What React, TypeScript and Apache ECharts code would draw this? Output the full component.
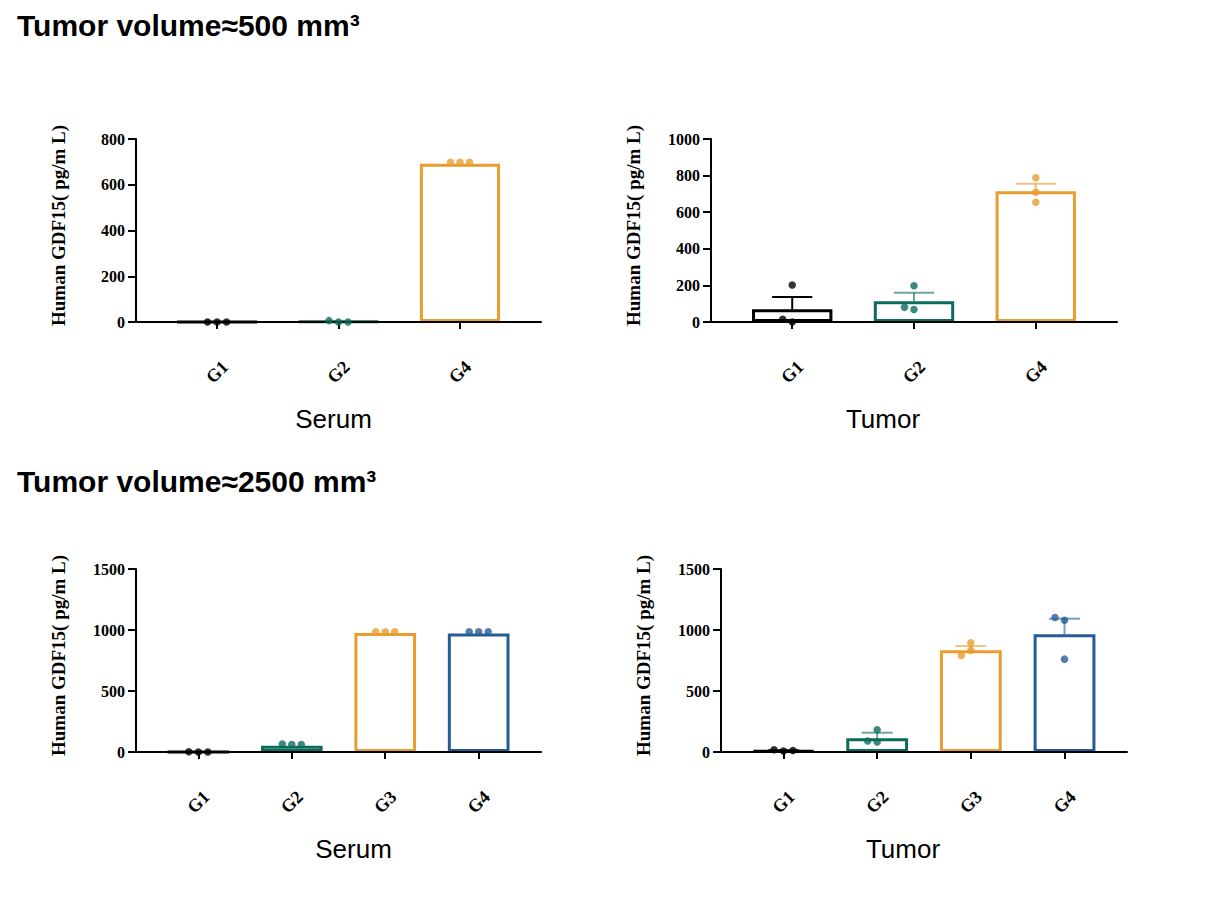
import React, { useEffect, useRef } from 'react';
import * as echarts from 'echarts';

// groups shown in each row
const groupsTop = ['G1', 'G2', 'G4'];
const groupsBottom = ['G1', 'G2', 'G3', 'G4'];

const colorsTop = ['#000000', '#0e6b5c', '#e99d2e'];
const colorsBottom = ['#000000', '#0e6b5c', '#e99d2e', '#245c96'];

const titleTop = 'Tumor volume≈500 mm³';
const titleBottom = 'Tumor volume≈2500 mm³';
const yName = 'Human GDF15( pg/m L)';

// Tumor volume ≈ 500 mm3, serum
const serum500Mean = [0, 2, 692];
const serum500Sem = [0, 0, 0];
const serum500Points = [[0, 0, 0], [0, 6, 0], [698, 698, 698]];

// Tumor volume ≈ 500 mm3, tumor
const tumor500Mean = [70, 113, 714];
const tumor500Sem = [67, 47, 42];
const tumor500Points = [[202, 0, 15], [198, 68, 80], [788, 709, 654]];

// Tumor volume ≈ 2500 mm3, serum
const serum2500Mean = [1, 52, 975, 972];
const serum2500Sem = [0, 0, 0, 0];
const serum2500Points = [[0, 2, 0], [62, 65, 62], [985, 985, 985], [985, 985, 985]];

// Tumor volume ≈ 2500 mm3, tumor
const tumor2500Mean = [12, 112, 835, 966];
const tumor2500Sem = [2, 46, 34, 127];
const tumor2500Points = [[8, 18, 12], [183, 82, 90], [896, 835, 790], [1080, 1102, 761]];

const yTicksTop = [800, 1000];
const yStepTop = 200;
const yMaxBottom = 1500;
const yStepBottom = 500;

const SERIF = '"Liberation Serif", "Times New Roman", serif';
const SANS = '"Liberation Sans", Arial, sans-serif';
const PAD = 0.667;
const DOT_STEP = 9.5;

// simple beeswarm: dots that would overlap get pushed sideways
const swarm = (values: number[], yMax: number) => {
  const thr = yMax * 0.032;
  const placed: { v: number; o: number }[] = [];
  return values.map((v) => {
    for (const o of [0, -1, 1, -2, 2]) {
      if (!placed.some((p) => p.o === o && Math.abs(p.v - v) < thr)) {
        placed.push({ v, o });
        return o;
      }
    }
    return 0;
  });
};

const panels = [
  { cats: groupsTop, colors: colorsTop, mean: serum500Mean, sem: serum500Sem, points: serum500Points, yMax: yTicksTop[0], step: yStepTop, name: 'Serum', grid: { left: 136, top: 139, width: 405, height: 183 }, shift: -5 },
  { cats: groupsTop, colors: colorsTop, mean: tumor500Mean, sem: tumor500Sem, points: tumor500Points, yMax: yTicksTop[1], step: yStepTop, name: 'Tumor', grid: { left: 711, top: 139, width: 406, height: 183 }, shift: -31 },
  { cats: groupsBottom, colors: colorsBottom, mean: serum2500Mean, sem: serum2500Sem, points: serum2500Points, yMax: yMaxBottom, step: yStepBottom, name: 'Serum', grid: { left: 136, top: 569, width: 405, height: 183 }, shift: 15 },
  { cats: groupsBottom, colors: colorsBottom, mean: tumor2500Mean, sem: tumor2500Sem, points: tumor2500Points, yMax: yMaxBottom, step: yStepBottom, name: 'Tumor', grid: { left: 721, top: 569, width: 406, height: 183 }, shift: -21 },
];

const fade = (hex: string) => (hex === '#000000' ? hex : hex + '99');

const App: React.FC = () => {
  const chartRef = useRef<HTMLDivElement | null>(null);

  useEffect(() => {
    if (!chartRef.current) return;
    const chart = echarts.init(chartRef.current, null, { renderer: 'svg' });

    const grid: any[] = [];
    const xAxis: any[] = [];
    const yAxis: any[] = [];
    const series: any[] = [];

    panels.forEach((p, i) => {
      const idx = p.cats.map((_, k) => k);
      grid.push({ ...p.grid, containLabel: false, outerBoundsMode: 'none' });
      xAxis.push({
        type: 'value',
        gridIndex: i,
        min: -PAD,
        max: p.cats.length - 1 + PAD,
        z: 3,
        splitLine: { show: false },
        axisLine: { show: true, onZero: false, lineStyle: { color: '#000', width: 2 } },
        axisTick: { show: true, customValues: idx, length: 7, lineStyle: { color: '#000', width: 2 } },
        axisLabel: {
          customValues: idx,
          formatter: (v: number) => p.cats[Math.round(v)],
          rotate: 45,
          align: 'center',
          verticalAlign: 'middle',
          margin: 50,
          fontFamily: SERIF,
          fontWeight: 'bold',
          fontSize: 18,
          color: '#000',
        },
        name: p.name,
        nameLocation: 'middle',
        nameGap: 84,
        nameTextStyle: {
          fontFamily: SANS,
          fontSize: 26,
          color: '#000',
          padding: p.shift < 0 ? [0, -2 * p.shift, 0, 0] : [0, 0, 0, 2 * p.shift],
        },
      });
      yAxis.push({
        type: 'value',
        gridIndex: i,
        min: 0,
        max: p.yMax,
        interval: p.step,
        z: 3,
        splitLine: { show: false },
        axisLine: { show: true, onZero: false, lineStyle: { color: '#000', width: 2 } },
        axisTick: { show: true, length: 8, lineStyle: { color: '#000', width: 2 } },
        axisLabel: {
          margin: 11,
          formatter: (v: number) => String(v),
          fontFamily: SERIF,
          fontWeight: 'bold',
          fontSize: 16,
          color: '#000',
        },
        name: yName,
        nameLocation: 'middle',
        nameGap: 68,
        nameTextStyle: {
          fontFamily: SERIF,
          fontWeight: 'bold',
          fontSize: 19,
          color: '#000',
          padding: [0, 0, 0, 10],
        },
      });

      series.push({
        type: 'bar',
        xAxisIndex: i,
        yAxisIndex: i,
        barWidth: '66%',
        z: 2,
        data: p.mean.map((m, k) => ({
          value: [k, m],
          itemStyle: { color: '#ffffff', borderColor: p.colors[k], borderWidth: 3 },
        })),
      });

      series.push({
        type: 'custom',
        xAxisIndex: i,
        yAxisIndex: i,
        z: 4,
        encode: { x: 0, y: 1 },
        data: p.mean.map((m, k) => [k, m, p.sem[k]]),
        renderItem: (params: any, api: any) => {
          const k = api.value(0);
          const m = api.value(1);
          const s = api.value(2);
          if (!s) return null;
          const base = api.coord([k, m]);
          const top = api.coord([k, m + s]);
          const half = api.size([1, 0])[0] * 0.165;
          const stroke = fade(p.colors[params.dataIndex]);
          return {
            type: 'group',
            children: [
              { type: 'line', shape: { x1: base[0], y1: base[1], x2: top[0], y2: top[1] }, style: { stroke, lineWidth: 2 } },
              { type: 'line', shape: { x1: top[0] - half, y1: top[1], x2: top[0] + half, y2: top[1] }, style: { stroke, lineWidth: 2 } },
            ],
          };
        },
      });

      const dots: any[] = [];
      p.points.forEach((vals, k) => {
        const offs = swarm(vals, p.yMax);
        vals.forEach((v, j) => {
          dots.push({
            value: [k, v],
            symbolOffset: [offs[j] * DOT_STEP, 0],
            itemStyle: { color: p.colors[k] },
          });
        });
      });
      series.push({
        type: 'scatter',
        xAxisIndex: i,
        yAxisIndex: i,
        z: 5,
        symbol: 'circle',
        symbolSize: 7.5,
        data: dots,
      });
    });

    chart.setOption({
      animation: false,
      backgroundColor: '#ffffff',
      title: [
        { text: titleTop, left: 12, top: 5, textStyle: { fontFamily: SANS, fontWeight: 'bold', fontSize: 30, color: '#000' } },
        { text: titleBottom, left: 12, top: 461, textStyle: { fontFamily: SANS, fontWeight: 'bold', fontSize: 30, color: '#000' } },
      ],
      grid,
      xAxis,
      yAxis,
      series,
    });

    return () => {
      chart.dispose();
    };
  }, []);

  return (
    <div
      ref={chartRef}
      style={{ position: 'absolute', left: 0, top: 0, width: '1226px', height: '918px' }}
    />
  );
};

export default App;
